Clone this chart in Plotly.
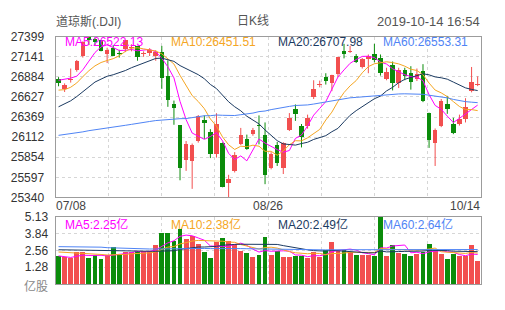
import plotly.graph_objects as go
import pandas as pd

# ---------------- data ----------------
dates = ["07/08","07/09","07/10","07/11","07/12","07/15","07/16","07/17","07/18","07/19",
         "07/22","07/23","07/24","07/25","07/26","07/29","07/30","07/31",
         "08/01","08/02","08/05","08/06","08/07","08/08","08/09","08/12","08/13","08/14",
         "08/15","08/16","08/19","08/20","08/21","08/22","08/23","08/26","08/27","08/28",
         "08/29","08/30",
         "09/03","09/04","09/05","09/06","09/09","09/10","09/11","09/12","09/13","09/16",
         "09/17","09/18","09/19","09/20","09/23","09/24","09/25","09/26","09/27","09/30",
         "10/01","10/02","10/03","10/04","10/07","10/08","10/09","10/10","10/11","10/14"]

open_ = [26857,26730,26840,26970,27150,27389,27366,27353,27170,27256,
         27190,27240,27255,27275,27170,27195,27150,27196,
         26895,26540,26262,25818,25810,26061,26330,26173,25894,26037,
         25520,25678,26030,26091,26150,26270,26140,25723,26009,25715,
         26200,26470,
         26260,26260,26620,26785,26880,26800,26917,27210,27205,27150,
         27010,27110,27170,27120,26860,27030,26800,26975,26935,26850,
         26962,26425,26039,26250,26540,26285,26275,26345,26705,26782]
high = [26880,26800,26990,27100,27338,27398.68,27388,27353,27256,27290,
        27230,27355,27300,27280,27210,27250,27224,27280,
        27095,26580,26262,26062,26030,26395,26390,26214,26418,26043,
        25630,25920,26230,26144,26230,26390,26300,25920,26050,26047,
        26420,26530,
        26280,26400,26840,26835,26930,26910,27140,27306,27280,27175,
        27125,27170,27306,27170,27000,27080,27000,27000,27020,26990,
        27046,26425,26223,26600,26640,26360,26400,26610,27010,26890]
low = [26763,26690,26810,26950,27130,27290,27290,27210,27060,27149,
       27130,27200,27210,27090,27140,27150,27089,26730,
       26500,26270,25560,25680,25450,26042,26090,25844,25850,25470,
       25339.60,25660,26010,25950,26130,26020,25510,25700,25743,25640,
       26190,26320,
       25980,26220,26600,26750,26785,26700,26880,27120,27190,27060,
       26990,26930,27070,26900,26840,26710,26740,26840,26720,26830,
       26560,25974,25743,26240,26410,26150,26260,26300,26685,26765]
close = [26806.14,26783.49,26860.20,27088.08,27332.03,27359.16,27335.63,27219.85,27222.97,27154.20,
         27171.90,27349.19,27269.97,27140.98,27192.45,27221.35,27198.02,26864.27,
         26583.42,26485.01,25717.74,26029.52,26007.07,26378.19,26287.44,25896.44,26279.91,25479.42,
         25579.39,25886.01,26135.79,25962.44,26202.73,26252.24,25628.90,25898.83,25777.90,26036.10,
         26362.25,26403.28,
         26118.02,26355.47,26728.15,26797.46,26835.51,26909.43,27137.04,27182.45,27219.52,27076.82,
         27110.80,27147.08,27094.79,26935.07,26949.99,26807.77,26970.71,26891.12,26820.25,26916.83,
         26573.04,26078.62,26201.04,26573.72,26478.02,26164.04,26346.01,26496.67,26816.59,26787.36]

# closes before 07/08 (only used by the moving-average lines)
hist_close = [26143.05,26412.30,26384.63,26452.66,26449.54,26559.54,26511.05,26656.39,26597.05,
              26462.08,26543.33,26554.39,26592.91,
              26430.14,26307.79,26504.95,26438.48,25965.09,25967.33,25828.36,25942.37,25324.99,
              25532.05,25648.02,25862.68,25764.00,25679.90,25877.33,25776.61,25490.47,25585.69,
              25347.77,25126.41,25169.88,24815.04,
              24819.78,25332.18,25539.57,25720.66,25983.94,26062.68,26048.51,26004.83,26106.77,
              26089.61,26112.53,26465.54,26504.00,26753.17,26719.13,26727.54,26548.22,26536.82,
              26526.58,26599.96,
              26717.43,26786.68,26966.00,26922.12]

# volume, 亿股
volume = [2.12,2.08,1.95,2.44,2.44,2.00,2.20,1.90,2.20,2.86,
          2.20,2.44,2.44,2.56,2.50,2.50,2.95,3.90,
          3.90,3.30,4.20,3.42,3.66,3.05,2.44,2.00,3.25,3.54,
          3.30,3.05,2.50,2.40,2.08,2.20,3.60,2.25,2.56,2.08,
          2.08,2.15,
          2.15,2.00,2.44,2.08,2.60,3.22,2.50,2.60,2.44,2.20,
          2.20,2.20,2.12,5.13,2.12,2.98,2.37,2.32,2.15,2.32,
          2.44,3.05,2.60,2.32,1.90,2.30,2.15,2.15,2.95,1.75]

# volume MA values at the start of the window
vol_ma5_head = [2.15,2.08,2.03,2.12]
vol_ma10_head = [2.45,2.43,2.40,2.38,2.36,2.33,2.30,2.26,2.22]
vol_ma20_head = [2.62,2.61,2.59,2.58,2.57,2.56,2.55,2.54,2.53,2.53,2.52,2.51,2.50,2.50,2.49,
                 2.49,2.50,2.52,2.53]
vol_ma60_head = [2.86,2.86,2.85,2.85,2.84,2.84,2.83,2.82,2.78,2.76,2.74,2.72,2.71,2.70,2.69,
                 2.68,2.68,2.69,2.70,2.71,2.72,2.72,2.73,2.73,2.72,2.71,2.72,2.72,2.72,2.72,
                 2.71,2.70,2.69,2.68,2.69,2.68,2.67,2.66,2.65,2.64,2.63,2.62,2.62,2.61,2.61,
                 2.62,2.62,2.62,2.62,2.61,2.61,2.60,2.60,2.63,2.62,2.62,2.62,2.61,2.61]

price_ticks = ["25340","25597","25854","26112","26369","26627","26884","27141","27399"]
vol_ticks = ["1.28","2.56","3.84","5.13"]
ma_labels = ["MA5:26522.13","MA10:26451.51","MA20:26707.98","MA60:26553.31"]
vol_labels = ["MA5:2.25亿","MA10:2.38亿","MA20:2.49亿","MA60:2.64亿"]
date_labels = ["07/08","08/26","10/14"]

# ---------------- derived ----------------
n = len(dates)
xs = list(range(n))
RED = "#f24f4f"
GREEN = "#0b8c0b"
MA_COLORS = ["#ff00ff", "#f5a623", "#1b3a61", "#4f84f5"]
up = [c >= o for o, c in zip(open_, close)]
colors = [RED if u else GREEN for u in up]

s_close = pd.Series(hist_close + close)
nh = len(hist_close)
price_ma = [s_close.rolling(w).mean().iloc[nh:].tolist() for w in (5, 10, 20, 60)]

s_vol = pd.Series(volume)
def vol_ma(w, head):
    r = s_vol.rolling(w).mean().tolist()
    return head + r[len(head):]
vol_mas = [vol_ma(5, vol_ma5_head), vol_ma(10, vol_ma10_head),
           vol_ma(20, vol_ma20_head), vol_ma(60, vol_ma60_head)]

ymin, ymax = min(low), max(high)
vmax = max(volume)

# ---------------- figure ----------------
W, H = 505, 310
FONT = "Liberation Sans, Arial, Noto Sans CJK SC, sans-serif"
fig = go.Figure()

for col in (RED, GREEN):
    wx, wy = [], []
    for i in xs:
        if colors[i] == col:
            wx += [i, i, None]
            wy += [low[i], high[i], None]
    fig.add_trace(go.Scatter(x=wx, y=wy, mode="lines", line=dict(color=col, width=1),
                             hoverinfo="skip", showlegend=False, xaxis="x", yaxis="y"))

min_body = (ymax - ymin) / 170.0
fig.add_trace(go.Bar(x=xs, base=[min(o, c) for o, c in zip(open_, close)],
                     y=[max(abs(c - o), min_body) for o, c in zip(open_, close)],
                     width=0.74, marker=dict(color=colors, line=dict(width=0)),
                     showlegend=False, xaxis="x", yaxis="y"))

for m, c in zip(price_ma, MA_COLORS):
    fig.add_trace(go.Scatter(x=xs, y=m, mode="lines", line=dict(color=c, width=1),
                             showlegend=False, xaxis="x", yaxis="y"))

fig.add_trace(go.Bar(x=xs, y=volume, width=0.8, marker=dict(color=colors, line=dict(width=0)),
                     showlegend=False, xaxis="x2", yaxis="y2"))
for m, c in zip(vol_mas, MA_COLORS):
    fig.add_trace(go.Scatter(x=xs, y=m, mode="lines", line=dict(color=c, width=1),
                             showlegend=False, xaxis="x2", yaxis="y2"))

L, R = 55.5, 480.7
T1, B1 = 31, 199.5
T2, B2 = 220, 290
xdom = [L / W, R / W]
grid_x = [-0.5 + n / 8 * k for k in range(1, 8)]
GRID = "#d6d6d6"
BORDER = "#9c9c9c"

common_x = dict(range=[-0.5, n - 0.5], showticklabels=False, tickmode="array", tickvals=grid_x,
                showgrid=True, gridcolor=GRID, griddash="3px,3px", gridwidth=1, zeroline=False,
                showline=True, mirror=True, linecolor=BORDER, linewidth=1, ticks="", fixedrange=True)

fig.update_layout(
    width=W, height=H, margin=dict(l=0, r=0, t=0, b=0), autosize=False,
    paper_bgcolor="white", plot_bgcolor="white", barmode="overlay", bargap=0,
    font=dict(family=FONT, size=12, color="#333"),
    xaxis=dict(domain=xdom, anchor="y", **common_x),
    xaxis2=dict(domain=xdom, anchor="y2", **common_x),
    yaxis=dict(domain=[1 - B1 / H, 1 - T1 / H], range=[ymin, ymax], tickmode="array",
               tickvals=[ymin + (ymax - ymin) * k / 8 for k in range(9)], ticktext=price_ticks,
               showgrid=True, gridcolor=GRID, griddash="3px,3px", zeroline=False,
               showline=True, mirror=True, linecolor=BORDER, linewidth=1,
               ticks="outside", ticklen=8, tickcolor="rgba(0,0,0,0)",
               tickfont=dict(size=12, color="#333"), fixedrange=True),
    yaxis2=dict(domain=[1 - B2 / H, 1 - T2 / H], range=[0, vmax], tickmode="array",
                tickvals=[vmax * k / 4 for k in range(1, 5)], ticktext=vol_ticks,
                showgrid=True, gridcolor=GRID, griddash="3px,3px", zeroline=False,
                showline=True, mirror=True, linecolor=BORDER, linewidth=1,
                ticks="outside", ticklen=4, tickcolor="rgba(0,0,0,0)",
                tickfont=dict(size=12, color="#333"), fixedrange=True),
)

ann = []
def txt(x, y, s, anchor="left", size=12, color="#333"):
    ann.append(dict(x=x / W, y=1 - y / H, xref="paper", yref="paper", text=s, showarrow=False,
                    xanchor=anchor, yanchor="middle", font=dict(size=size, color=color, family=FONT),
                    borderpad=0))

txt(55, 15, "道琼斯(.DJI)", size=12, color="#555")
txt(253, 15, "日K线", anchor="center", size=12, color="#555")
txt(481, 15, "2019-10-14 16:54", anchor="right", size=13, color="#555")
txt(55, 208, date_labels[0], color="#444")
txt(268, 208, date_labels[1], anchor="center", color="#444")
txt(481, 208, date_labels[2], anchor="right", color="#444")
txt(49, 293, "亿股", anchor="right", size=12, color="#888")
for xpos, s, c in zip([64, 170, 277, 382], ma_labels, MA_COLORS):
    txt(xpos, 37, s, color=c)
for xpos, s, c in zip([64, 170, 277, 382], vol_labels, MA_COLORS):
    txt(xpos, 228, s, color=c)
fig.update_layout(annotations=ann)

fig.write_html("out.html", config={"displayModeBar": False, "staticPlot": True})
